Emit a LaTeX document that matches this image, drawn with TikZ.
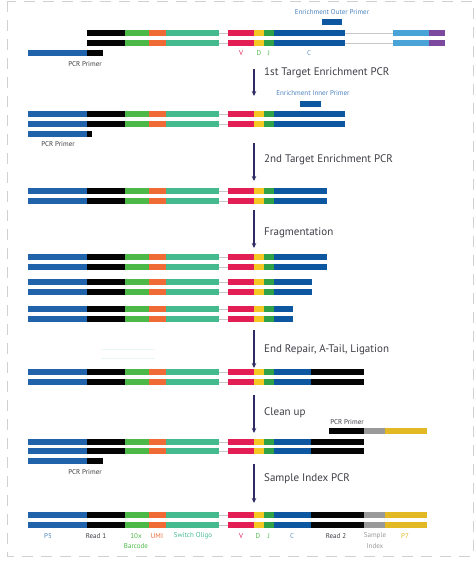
\documentclass[tikz,border=0pt]{standalone}
\usepackage{fontspec}
\setmainfont{PT Sans}
\usetikzlibrary{arrows.meta}
\definecolor{pfivec}{HTML}{2063AA}
\definecolor{rdone}{HTML}{050505}
\definecolor{bcode}{HTML}{4CB848}
\definecolor{umi}{HTML}{F06A35}
\definecolor{tso}{HTML}{45BA8F}
\definecolor{vseg}{HTML}{E21E54}
\definecolor{dseg}{HTML}{F5C723}
\definecolor{jseg}{HTML}{2EA149}
\definecolor{cseg}{HTML}{0D56A0}
\definecolor{ltblue}{HTML}{4AA3D6}
\definecolor{purp}{HTML}{7B4A9E}
\definecolor{sidx}{HTML}{999999}
\definecolor{pseven}{HTML}{E2B825}
\definecolor{navy}{HTML}{2E2B62}
\definecolor{txt}{HTML}{3D3D45}
\tikzset{
  steplbl/.style={anchor=west, text=txt, font=\fontsize{11}{13}\selectfont, inner sep=0pt},
  smalllbl/.style={text=#1, font=\fontsize{7}{8}\selectfont, inner sep=0pt},
  link/.style={draw=black!22, line width=0.8pt},
  frame/.style={draw=black!18, line width=0.8pt, dash pattern=on 11pt off 8pt},
}
% one strand, from Read 1 to the end of C
\newcommand{\cdna}[2]{%
  \fill[rdone] (87,#1) rectangle (125,#1+6);
  \fill[bcode] (125,#1) rectangle (149,#1+6);
  \fill[umi] (149,#1) rectangle (166,#1+6);
  \fill[tso] (166,#1) rectangle (219,#1+6);
  \draw[link] (219,#1+3) -- (228,#1+3);
  \fill[vseg] (228,#1) rectangle (254,#1+6);
  \fill[dseg] (254,#1) rectangle (264,#1+6);
  \fill[jseg] (264,#1) rectangle (274,#1+6);
  \fill[cseg] (274,#1) rectangle (#2,#1+6);}
\newcommand{\pfive}[1]{\fill[pfivec] (28,#1) rectangle (87,#1+6);}
\begin{document}
\begin{tikzpicture}[x=1pt, y=-1pt, >={Stealth[length=5pt,width=4.5pt]}]
\useasboundingbox (0,0) rectangle (476,563);
\draw[frame] (7,1) rectangle (473,556);

% full length cDNA
\node[smalllbl=pfivec!80] (OP) at (332,12){Enrichment Outer Primer};
\fill[cseg] (322,19) rectangle (342,25);
\foreach \y in {30,40}{
  \cdna{\y}{345}
  \draw[link] (345,\y+3) -- (393,\y+3);
  \fill[ltblue] (393,\y) rectangle (429,\y+6);
  \fill[purp] (429,\y) rectangle (445,\y+6);
}
\pfive{50}
\fill[rdone] (87,50) rectangle (103,56);
\node[smalllbl=txt] (PP1) at (85,64){PCR Primer};
\node[smalllbl=vseg] (V1) at (241,53){V};
\node[smalllbl=bcode] (D1) at (259,53){D};
\node[smalllbl=bcode] (J1) at (269,53){J};
\node[smalllbl=pfivec!70] (C1) at (309,53){C};

\coordinate (s1) at (254,69);
\coordinate (e1) at (254,96);
\draw[->, navy, line width=1.3pt] (s1)--(e1);
\node[steplbl] (L1) at (264,73){1st Target Enrichment PCR};

% first enrichment
\node[smalllbl=pfivec!80] (IP) at (313,93){Enrichment Inner Primer};
\fill[cseg] (300,101) rectangle (321,107);
\foreach \y in {111,121}{\pfive{\y} \cdna{\y}{345}}
\pfive{131}
\fill[rdone] (87,131) rectangle (92,137);
\node[smalllbl=txt] (PP2) at (58,144){PCR Primer};

\coordinate (s2) at (254,143);
\coordinate (e2) at (254,181);
\draw[->, navy, line width=1.3pt] (s2)--(e2);
\node[steplbl] (L2) at (264,160){2nd Target Enrichment PCR};

% second enrichment
\foreach \y in {188,198}{\pfive{\y} \cdna{\y}{327}}

\coordinate (s3) at (254,210);
\coordinate (e3) at (254,248);
\draw[->, navy, line width=1.3pt] (s3)--(e3);
\node[steplbl] (L3) at (264,233){Fragmentation};

% fragments
\foreach \y in {254,264}{\pfive{\y} \cdna{\y}{327}}
\foreach \y in {279,289}{\pfive{\y} \cdna{\y}{312}}
\foreach \y in {306,316}{\pfive{\y} \cdna{\y}{293}}
\draw[tso!12, line width=0.6pt] (101,349)--(155,349);
\draw[tso!12, line width=0.6pt] (101,358)--(155,358);

\coordinate (s4) at (254,330);
\coordinate (e4) at (254,368);
\draw[->, navy, line width=1.3pt] (s4)--(e4);
\node[steplbl] (L4) at (264,350){End Repair, A-Tail, Ligation};

% adaptor ligated
\foreach \y in {369,379}{\pfive{\y} \cdna{\y}{311}
  \fill[rdone] (311,\y) rectangle (364,\y+6);}

\coordinate (s5) at (254,395);
\coordinate (e5) at (254,433);
\draw[->, navy, line width=1.3pt] (s5)--(e5);
\node[steplbl] (L5) at (264,413){Clean up};

% sample index PCR primers
\node[smalllbl=txt] (PP3) at (347,422){PCR Primer};
\fill[rdone] (329,428) rectangle (364,434);
\fill[sidx] (364,428) rectangle (385,434);
\fill[pseven] (385,428) rectangle (427,434);
\foreach \y in {439,448}{\pfive{\y} \cdna{\y}{311}
  \fill[rdone] (311,\y) rectangle (364,\y+6);}
\pfive{458}
\fill[rdone] (87,458) rectangle (103,464);
\node[smalllbl=txt] (PP4) at (85,472){PCR Primer};

\coordinate (s6) at (254,464);
\coordinate (e6) at (254,503);
\draw[->, navy, line width=1.3pt] (s6)--(e6);
\node[steplbl] (L6) at (264,479){Sample Index PCR};

% final library
\foreach \y in {512,522}{\pfive{\y} \cdna{\y}{311}
  \fill[rdone] (311,\y) rectangle (364,\y+6);
  \fill[sidx] (364,\y) rectangle (385,\y+6);
  \fill[pseven] (385,\y) rectangle (427,\y+6);}
\node[smalllbl=pfivec!80] (P5) at (48,536){P5};
\node[smalllbl=txt] (R1) at (96,536){Read 1};
\node[smalllbl=bcode] (BC) at (136,536)[align=center]{10x};
\node[smalllbl=bcode] (BC2) at (136,546){Barcode};
\node[smalllbl=umi] (UM) at (157,536){UMI};
\node[smalllbl=tso] (SO) at (193,536){Switch Oligo};
\node[smalllbl=vseg] (V2) at (241,536){V};
\node[smalllbl=bcode] (D2) at (258,536){D};
\node[smalllbl=bcode] (J2) at (269,536){J};
\node[smalllbl=pfivec!70] (C2) at (292,536){C};
\node[smalllbl=txt] (R2) at (336,536){Read 2};
\node[smalllbl=sidx] (SI) at (375,536){Sample};
\node[smalllbl=sidx] (SI2) at (375,546){Index};
\node[smalllbl=pseven] (P7) at (405,536){P7};
\end{tikzpicture}
\end{document}
